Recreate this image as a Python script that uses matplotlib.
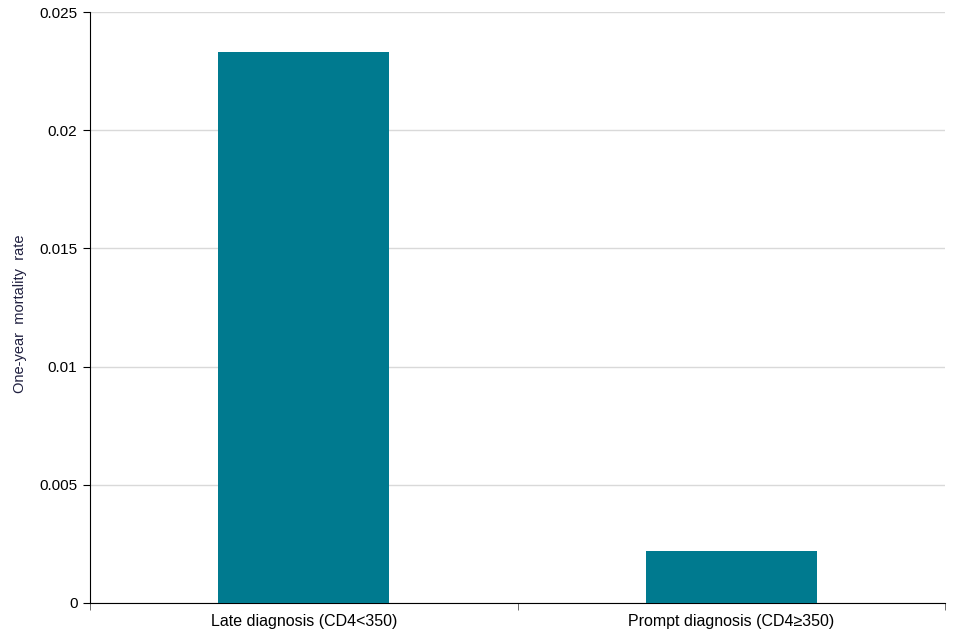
import matplotlib
matplotlib.use("Agg")
import matplotlib.pyplot as plt

categories = ["Late diagnosis (CD4<350)", "Prompt diagnosis (CD4\u2265350)"]
values = [0.02332, 0.0022]
yticks = [0, 0.005, 0.01, 0.015, 0.02, 0.025]
ytick_labels = ["0", "0.005", "0.01", "0.015", "0.02", "0.025"]

plt.rcParams['font.family'] = ['Liberation Sans', 'DejaVu Sans']

fig = plt.figure(figsize=(9.6, 6.4), dpi=100)
ax = fig.add_axes([90/960, 1-603/640, (945-90)/960, (603-12)/640])

x = list(range(len(categories)))
ax.bar(x, values, width=0.4, color="#007A8F", zorder=3)
ax.set_xlim(-0.5, 1.5)
ax.set_ylim(0, 0.025)
ax.set_yticks(yticks)
ax.set_yticklabels(ytick_labels, fontsize=11)
ax.set_xticks(x)
ax.set_xticklabels(categories, fontsize=11.5)
ax.tick_params(axis='x', length=0, pad=8)
ax.set_xticks([-0.5, 0.5, 1.5], minor=True)
ax.tick_params(axis='x', which='minor', length=5, color='#555555', direction='out')
ax.tick_params(axis='y', length=5, direction='out', color='black', pad=4)
ax.yaxis.grid(True, color='#d9d9d9', linewidth=1, zorder=0)
ax.set_axisbelow(True)
for s in ['top', 'right']:
    ax.spines[s].set_visible(False)
ax.spines['left'].set_color('black')
ax.spines['bottom'].set_color('black')
ax.set_ylabel("One-year  mortality  rate", fontsize=10.5, color='#1f1f3f')
ax.yaxis.set_label_coords((27-90)/855, 0.49)

fig.savefig("out.png", dpi=100)
